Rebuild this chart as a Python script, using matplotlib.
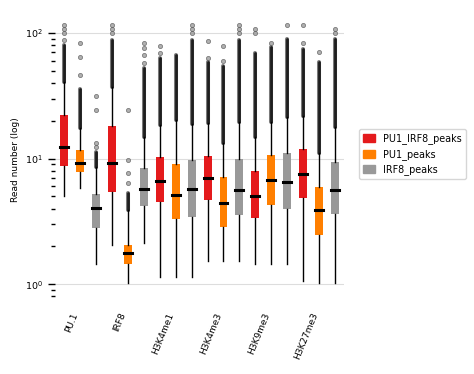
import numpy as np
import matplotlib.pyplot as plt
from matplotlib.patches import Patch

groups = ["PU.1", "IRF8", "H3K4me1", "H3K4me3", "H3K9me3", "H3K27me3"]
peak_sets = ["PU1_IRF8_peaks", "PU1_peaks", "IRF8_peaks"]
colors = ["#e41a1c", "#ff7f00", "#999999"]

# box stats (order: group by group, peak set within group)
medians = [12.35, 9.2, 4.01, 9.26, 1.76, 5.75, 6.65, 5.09, 5.68,
           6.99, 4.40, 5.61, 5.05, 6.7, 6.46, 7.57, 3.87, 5.61]
q1 = [8.77, 7.85, 2.81, 5.41, 1.46, 4.18, 4.5, 3.31, 3.44,
      4.67, 2.83, 3.55, 3.34, 4.28, 3.94, 4.84, 2.46, 3.63]
q3 = [22.2, 11.6, 5.19, 18.2, 2.07, 8.35, 10.3, 9.04, 9.73,
      10.5, 7.08, 10.0, 7.95, 10.7, 11.1, 11.9, 5.96, 9.43]
whislo = [5.05, 5.85, 1.44, 2.07, 1.02, 2.13, 1.14, 1.14, 1.14,
          1.52, 1.52, 1.52, 1.46, 1.46, 1.46, 1.06, 1.02, 1.02]
# range where outliers overlap into a solid column
dense_lo = [41, 17.4, 8.6, 36.9, 3.89, 14.9, 18.5, 20.3, 18.7,
            19.1, 13.2, 19.6, 14.9, 19.6, 21.5, 21.8, 11.0, 17.9]
dense_hi = [80, 36, 11.3, 88, 5.28, 52.4, 62.8, 66.8, 88,
            59, 54.6, 88, 68.9, 76.9, 89, 74.1, 59, 89]
# separate outliers
sparse = [
    [88, 100.5, 107.6, 115.8],
    [46.3, 64.7, 82.8],
    [12.4, 13.4, 24.3, 31.7],
    [100.5, 107.6, 115.8],
    [6.34, 7.62, 9.73, 24.3],
    [58, 66.8, 76.3, 83.7],
    [68.9, 79.2],
    [],
    [100.5, 107.6, 115.8],
    [62.8, 86.9],
    [59.8, 78.8],
    [100.5, 107.6, 115.8],
    [99.3, 107],
    [83.7],
    [115.8],
    [82.8, 115.8],
    [70.2],
    [99.3, 107],
]

n = len(medians)
pos = np.arange(1, n + 1)
box_colors = [colors[i % 3] for i in range(n)]

stats = []
for i in range(n):
    stats.append(dict(med=medians[i], q1=q1[i], q3=q3[i],
                      whislo=whislo[i], whishi=dense_lo[i], fliers=sparse[i]))

fig = plt.figure(figsize=(4.74, 3.74), dpi=100)
ax = fig.add_axes([0.116, 0.198, 0.61, 0.749])

ax.set_yscale("log")
for y in [1, 10, 100]:
    ax.axhline(y, color="#dddddd", lw=0.8, zorder=0)

# overlapping outliers: dark column with grey rim
ax.vlines(pos, dense_lo, dense_hi, color="#7a7a7a", lw=2.9, zorder=2,
          capstyle="round")
ax.vlines(pos, dense_lo, dense_hi, color="#1e1e1e", lw=2.0, zorder=2,
          capstyle="round")

bp = ax.bxp(stats, positions=pos, widths=0.5, patch_artist=True,
            showcaps=False, manage_ticks=False,
            boxprops=dict(linewidth=0),
            whiskerprops=dict(color="black", linewidth=1.0),
            medianprops=dict(color="black", linewidth=2.2,
                             solid_capstyle="projecting"),
            flierprops=dict(marker="o", markersize=3.0,
                            markerfacecolor="#8f8f8f",
                            markeredgecolor="#555555",
                            markeredgewidth=0.6, alpha=0.7))
for patch, c in zip(bp["boxes"], box_colors):
    patch.set_facecolor(c)
    patch.set_edgecolor(c)

ax.set_xlim(0.44, n + 0.56)
ax.set_ylim(0.75, 127)
ax.set_xticks(pos[1::3])
ax.set_xticklabels(groups, rotation=68, ha="right", fontsize=6.5)
ax.tick_params(axis="x", length=0, pad=8)
ax.tick_params(axis="y", which="major", length=5, width=1, labelsize=6.8)
ax.tick_params(axis="y", which="minor", length=3, width=1)
for s in ax.spines.values():
    s.set_visible(False)
ax.set_ylabel("Read number (log)", fontsize=6.5)

handles = [Patch(facecolor=c, edgecolor=c) for c in colors]
ax.legend(handles, peak_sets, loc="center left", bbox_to_anchor=(1.035, 0.52),
          fontsize=6.9, handlelength=1.3, handleheight=0.9)

fig.savefig("out.png", dpi=100)
